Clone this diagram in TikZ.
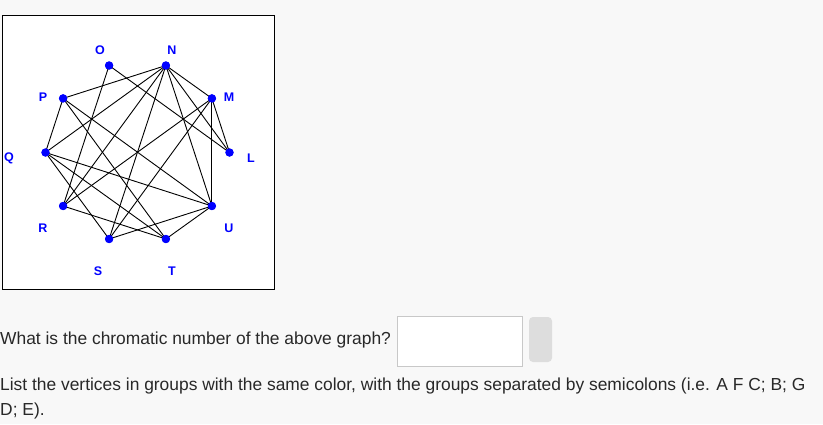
\documentclass[tikz,border=0pt]{standalone}
\usepackage{fontspec}
\setmainfont{Liberation Sans}
\definecolor{vblue}{RGB}{0,0,255}
\definecolor{bggray}{RGB}{248,248,248}
\definecolor{txtgray}{RGB}{40,40,40}
\definecolor{boxgray}{RGB}{200,200,200}
\definecolor{btngray}{RGB}{221,221,221}
\begin{document}
\begin{tikzpicture}[x=1pt,y=-1pt,
  vtx/.style={circle,fill=vblue,inner sep=0pt,minimum size=8pt},
  lbl/.style={text=vblue,font=\fontsize{12.5}{12.5}\selectfont\bfseries,inner sep=0pt},
  gedge/.style={draw=black,line width=0.9pt},
  qtext/.style={text=txtgray,font=\fontsize{17.4}{17.4}\selectfont,inner sep=0pt,anchor=base west}]
\useasboundingbox[fill=bggray] (0,0) rectangle (823,424);
\draw[fill=white,line width=1pt] (2,15) rectangle (274,289);
% vertices
\node[vtx] (L) at (229.5,152.5) {};
\node[vtx] (M) at (211.9,98.4) {};
\node[vtx] (N) at (165.9,65.5) {};
\node[vtx] (O) at (109.1,65.5) {};
\node[vtx] (P) at (63.1,98.4) {};
\node[vtx] (Q) at (45.5,152.5) {};
\node[vtx] (R) at (63.1,206.0) {};
\node[vtx] (S) at (109.1,239.0) {};
\node[vtx] (T) at (165.9,239.0) {};
\node[vtx] (U) at (211.9,206.0) {};
% labels
\node[lbl] (lO) at (100,50) {O};
\node[lbl] (lN) at (172,50) {N};
\node[lbl] (lM) at (229,97) {M};
\node[lbl] (lL) at (251,158) {L};
\node[lbl] (lU) at (229,228) {U};
\node[lbl] (lT) at (172,271) {T};
\node[lbl] (lS) at (98,271) {S};
\node[lbl] (lR) at (43,228) {R};
\node[lbl] (lQ) at (9,158) {Q};
\node[lbl] (lP) at (43,97) {P};
% edges
\foreach \a/\b in {O/R,O/L,N/P,N/Q,N/R,N/S,N/U,N/M,N/L,P/Q,P/U,P/T,Q/U,Q/T,Q/S,R/T,R/M,S/U,S/M,T/U,M/U,M/L}
  \draw[gedge] (\a.center) -- (\b.center);
\foreach \v in {L,M,N,O,P,Q,R,S,T,U}
  \fill[vblue] (\v) circle (4.2pt);
% question text
\node[qtext] (q1) at (0,344) {What is the chromatic number of the above graph?};
\node[draw=boxgray,fill=white,minimum width=125pt,minimum height=50pt,inner sep=0pt] (ans) at (459.5,341) {};
\node[fill=btngray,rounded corners=4pt,minimum width=23pt,minimum height=45pt,inner sep=0pt] (btn) at (540.5,339.5) {};
\node[qtext] (q2) at (0,390) {List the vertices in groups with the same color, with the groups separated by semicolons (i.e. A F C; B; G};
\node[qtext] (q3) at (0,415) {D; E).};
\end{tikzpicture}
\end{document}
